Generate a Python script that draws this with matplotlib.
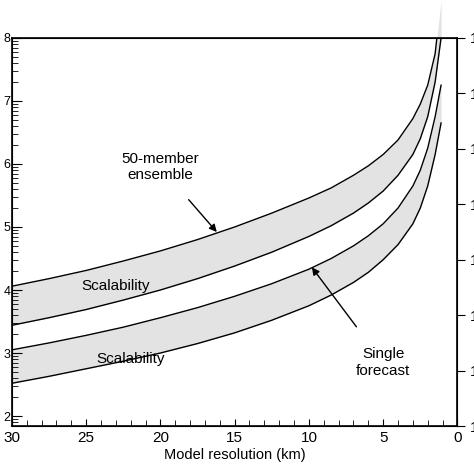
import numpy as np
import matplotlib.pyplot as plt
from matplotlib.ticker import FixedLocator, LogLocator, NullFormatter

# model resolution (km) and log10 of cost
res = [30, 27.5, 25, 22.5, 20, 17.5, 15, 12.5, 10, 8.5, 7, 6, 5, 4, 3, 2.5, 2, 1.5, 1.1]
ens_hi = [4.06, 4.18, 4.31, 4.46, 4.62, 4.80, 5.00, 5.22, 5.46, 5.62, 5.82, 5.97, 6.15,
          6.38, 6.72, 6.95, 7.25, 7.75, 8.6]
ens_lo = [3.44, 3.56, 3.69, 3.84, 4.00, 4.18, 4.38, 4.60, 4.85, 5.02, 5.22, 5.38, 5.57,
          5.82, 6.15, 6.40, 6.75, 7.30, 8.0]
single_hi = [3.05, 3.16, 3.28, 3.41, 3.56, 3.72, 3.90, 4.10, 4.33, 4.50, 4.70, 4.86, 5.05,
             5.30, 5.65, 5.90, 6.25, 6.75, 7.25]
single_lo = [2.52, 2.63, 2.75, 2.87, 3.00, 3.15, 3.32, 3.52, 3.75, 3.92, 4.12, 4.28, 4.48,
             4.72, 5.05, 5.30, 5.65, 6.15, 6.65]
left_labels = ["2", "3", "4", "5", "6", "7", "8"]
right_labels = ["1"] * 8

plt.rcParams['font.family'] = ['Liberation Sans', 'DejaVu Sans']
fig = plt.figure(figsize=(4.74, 4.74), dpi=100)
ax = fig.add_axes([0.025, 0.101, 0.94, 0.819])

x = np.array(res)
# upper band runs out through the top of the frame
h = 10 ** np.array(ens_hi)
l = 10 ** np.array(ens_lo)
ax.fill_between(x, l, h, color="#e3e3e3", lw=0, clip_on=False)
ax.plot(x, h, color="black", lw=1)
ax.plot(x, l, color="black", lw=1)
h = 10 ** np.array(single_hi)
l = 10 ** np.array(single_lo)
ax.fill_between(x, l, h, color="#e3e3e3", lw=0)
ax.plot(x, h, color="black", lw=1)
ax.plot(x, l, color="black", lw=1)

ax.set_yscale("log")
ax.set_ylim(10 ** 1.84, 1e8)
ax.set_xlim(30, 0)
ax.set_yticks([10.0 ** k for k in range(2, 9)])
ax.set_yticklabels(left_labels, fontsize=9)
ax.yaxis.set_minor_locator(LogLocator(base=10, subs=np.arange(2, 10)))
ax.yaxis.set_minor_formatter(NullFormatter())
ax.tick_params(axis="y", which="major", direction="in", length=7, pad=1)
ax.tick_params(axis="y", which="minor", direction="in", length=4)
ax.set_xticks(range(0, 31, 5))
ax.xaxis.set_minor_locator(FixedLocator(range(0, 31)))
ax.tick_params(axis="x", which="major", direction="in", length=5, labelsize=11)
ax.tick_params(axis="x", which="minor", direction="in", length=4)
ax.set_xlabel("Model resolution (km)", fontsize=10.5, labelpad=2)

ax2 = ax.twinx()
ax2.set_ylim(0, 7)
ax2.set_yticks(range(8))
ax2.set_yticklabels(right_labels, fontsize=11)
ax2.tick_params(axis="y", direction="out", length=6, pad=3)

for s in ax.spines.values():
    s.set_linewidth(1.2)

ax.text(23, 10 ** 4.06, "Scalability", fontsize=11, ha="center", va="center")
ax.text(22, 10 ** 2.9, "Scalability", fontsize=11, ha="center", va="center")
ax.annotate("50-member\nensemble", xy=(16.2, 10 ** 4.92), xytext=(20, 10 ** 5.95),
            fontsize=11, ha="center", va="center",
            arrowprops=dict(arrowstyle="-|>", color="black", lw=1, shrinkA=14, shrinkB=0))
ax.annotate("Single\nforecast", xy=(9.8, 10 ** 4.36), xytext=(5, 10 ** 2.85),
            fontsize=11, ha="center", va="center",
            arrowprops=dict(arrowstyle="-|>", color="black", lw=1, shrinkA=16, shrinkB=0))

fig.savefig("out.png", dpi=100)
